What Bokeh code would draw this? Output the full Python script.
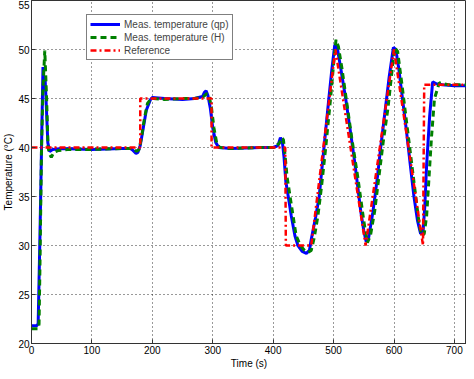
from bokeh.plotting import figure
from bokeh.models import Legend, LegendItem, FixedTicker, Range1d
from bokeh.embed import file_html
from bokeh.resources import INLINE

# --- data ---
t_qp = [0, 8, 11, 14, 16.6, 19, 21, 22.5, 24, 27, 30, 35, 50, 100, 150, 164, 168, 173, 176,
        180, 185, 190, 197, 200, 220, 250, 270, 283, 286, 289, 292, 296, 300, 305, 310, 330,
        380, 400, 408, 412, 415, 418, 421, 425, 430, 436, 441, 448, 455, 460, 463, 470, 476,
        484, 492, 497, 502, 506, 512, 520, 527, 535, 545, 550, 554, 558, 565, 572, 578, 585,
        592, 599, 603, 608, 615, 621, 627, 633, 639, 644, 648, 651, 654, 659, 664, 670, 680,
        700, 720]
T_qp = [21.8, 21.8, 22, 31, 40, 48.2, 46.5, 47, 45, 40.5, 39.6, 39.8, 39.9, 39.8, 39.9, 39.9,
        39.7, 39.4, 39.5, 40.2, 42, 43.8, 44.9, 45.1, 45, 44.9, 45, 45.2, 45.6, 45.8, 45.3, 44,
        42, 40.5, 40, 39.9, 40, 40, 40.2, 41, 40.7, 39, 36.5, 35, 33, 31, 30, 29.4, 29.2, 29.5,
        30.6, 32.8, 34.9, 39.9, 44.9, 47.9, 50.5, 50.2, 48, 45, 42, 38.5, 33.5, 31.5, 30.4,
        30.8, 33.4, 36.7, 40, 43.6, 47.2, 50.2, 50, 48, 44.5, 41.5, 38.2, 35, 32.5, 31.2, 31.3,
        34, 38.2, 43.2, 46.7, 46.5, 46.4, 46.3, 46.3]

t_h = [0, 11, 12.5, 14, 16.6, 19, 22, 25, 27.4, 30, 32.8, 37, 45, 60, 100, 150, 165, 170, 174,
       178, 182, 187, 192, 198, 202, 220, 250, 270, 285, 290, 294, 298, 302, 307, 312, 330,
       380, 400, 410, 414, 417, 420, 423, 428, 433, 438, 445, 452, 458, 463, 468, 474, 480,
       487, 495, 500, 504, 508, 514, 522, 530, 540, 550, 556, 561, 568, 575, 582, 590, 597,
       601, 606, 613, 620, 626, 632, 638, 642, 646, 650, 654, 658, 662, 667, 675, 690, 720]
T_h = [21.5, 21.5, 22, 28, 40, 46, 49.9, 45, 40, 39.3, 39, 39.5, 39.7, 39.8, 39.8, 39.9, 39.9,
       39.8, 39.6, 39.8, 41, 43, 44.5, 45, 45, 44.9, 45, 45, 45.2, 45.5, 45.3, 44, 42, 40.3,
       40, 39.9, 40, 40, 40.4, 41, 40.8, 39, 37, 35, 33, 31, 30, 29.5, 29.3, 29.5, 30.8, 33,
       36, 40, 45, 48.5, 51, 50.3, 48, 44.5, 41, 37, 32.5, 30.3, 31, 33.5, 37, 40.5, 44, 48,
       50.2, 49.8, 46.5, 43, 40, 37, 34, 32, 31, 31.2, 33, 37, 41, 45, 46.6, 46.4, 46.4]

t_ref = [0, 180, 180, 298, 298, 420, 421, 463, 503, 553, 600, 648, 650, 720]
T_ref = [40, 40, 45, 45, 40, 40, 30, 30, 50, 30, 50, 30, 46.4, 46.4]

x_ticks = [0, 100, 200, 300, 400, 500, 600, 700]
y_ticks = [20, 25, 30, 35, 40, 45, 50, 55]

labels = ["Meas. temperature (qp)", "Meas. temperature (H)", "Reference"]
x_title = "Time (s)"
y_title = "Temperature (°C)"

FONT = "Liberation Sans"

p = figure(width=466, height=371, output_backend="svg", toolbar_location=None,
           x_range=Range1d(0, 720), y_range=Range1d(20, 55),
           min_border_top=0, min_border_right=0, min_border_left=0, min_border_bottom=0)

p.background_fill_color = "white"
p.border_fill_color = "white"
p.outline_line_color = "#333333"
p.outline_line_width = 1

for ax in (p.xaxis[0], p.yaxis[0]):
    ax.axis_line_color = "#333333"
    ax.major_tick_line_color = "#333333"
    ax.major_tick_in = 4
    ax.major_tick_out = 0
    ax.minor_tick_line_color = None
    ax.major_label_text_font = FONT
    ax.major_label_text_font_size = "10px"
    ax.major_label_text_color = "black"
    ax.axis_label_text_font = FONT
    ax.axis_label_text_font_size = "10px"
    ax.axis_label_text_font_style = "normal"
    ax.axis_label_text_color = "black"

p.xaxis.ticker = FixedTicker(ticks=x_ticks)
p.yaxis.ticker = FixedTicker(ticks=y_ticks)
p.xaxis.axis_label = x_title
p.yaxis.axis_label = y_title
p.xaxis.major_label_standoff = 2
p.yaxis.major_label_standoff = 2
p.xaxis.axis_label_standoff = 1
p.yaxis.axis_label_standoff = 1

for g in (p.xgrid[0], p.ygrid[0]):
    g.grid_line_color = "black"
    g.grid_line_alpha = 0.8
    g.grid_line_dash = "1 3"
    g.grid_line_width = 1

r_qp = p.line(t_qp, T_qp, line_color="#0000ff", line_width=3)
r_h = p.line(t_h, T_h, line_color="#008000", line_width=3, line_dash="6 4")
r_ref = p.line(t_ref, T_ref, line_color="#ff0000", line_width=2.5, line_dash="6 3 2 3")

legend = Legend(items=[LegendItem(label=labels[0], renderers=[r_qp]),
                       LegendItem(label=labels[1], renderers=[r_h]),
                       LegendItem(label=labels[2], renderers=[r_ref])],
                location=(55, 283))
legend.label_text_font = FONT
legend.label_text_font_size = "10px"
legend.label_height = 12
legend.glyph_height = 12
legend.glyph_width = 30
legend.label_standoff = 4
legend.spacing = 1
legend.padding = 3
legend.margin = 0
legend.border_line_color = "black"
legend.border_line_width = 1
legend.background_fill_alpha = 1
p.add_layout(legend, "center")

open("out.html", "w").write(file_html(p, INLINE))
